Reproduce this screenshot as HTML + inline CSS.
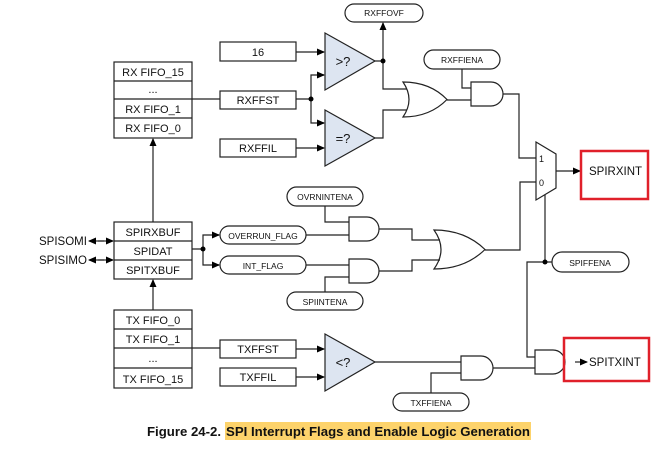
<!DOCTYPE html>
<html><head><meta charset="utf-8"><style>
html,body{margin:0;padding:0;background:#fff;}
svg{display:block;}
text{font-family:"Liberation Sans",sans-serif;fill:#111;}
</style></head><body>
<svg width="660" height="450" viewBox="0 0 660 450" xmlns="http://www.w3.org/2000/svg">
<defs>
<marker id="ar" markerWidth="8" markerHeight="8" refX="7" refY="4" orient="auto" markerUnits="userSpaceOnUse">
<path d="M0,0.5 L8,4 L0,7.5 Z" fill="#000"/></marker>
</defs>
<g fill="none" stroke="#222" stroke-width="1.2">
<rect x="114" y="62" width="78" height="76" fill="#fff"/>
<line x1="114" y1="81" x2="192" y2="81"/><line x1="114" y1="99" x2="192" y2="99"/><line x1="114" y1="118" x2="192" y2="118"/>
<rect x="114" y="222" width="78" height="57" fill="#fff"/>
<line x1="114" y1="241" x2="192" y2="241"/><line x1="114" y1="260" x2="192" y2="260"/>
<rect x="114" y="310" width="78" height="78" fill="#fff"/>
<line x1="114" y1="329" x2="192" y2="329"/><line x1="114" y1="348" x2="192" y2="348"/><line x1="114" y1="368" x2="192" y2="368"/>
<rect x="220" y="42" width="76" height="19"/>
<rect x="220" y="91" width="76" height="18"/>
<rect x="220" y="139" width="76" height="18"/>
<rect x="220" y="340" width="76" height="18"/>
<rect x="220" y="368" width="76" height="18"/>
<path d="M325 33 L375 61 L325 90 Z" fill="#dde5f1"/>
<path d="M325 110 L375 138 L325 166 Z" fill="#dde5f1"/>
<path d="M325 334 L375 362 L325 391 Z" fill="#dde5f1"/>
<rect x="345" y="4" width="78" height="18" rx="9"/>
<rect x="424" y="50" width="76" height="19" rx="9.5"/>
<rect x="287" y="187" width="76" height="19" rx="9.5"/>
<rect x="220" y="226" width="86" height="18" rx="9"/>
<rect x="220" y="256" width="86" height="18" rx="9"/>
<rect x="287" y="292" width="76" height="18" rx="9"/>
<rect x="552" y="252" width="77" height="20" rx="10"/>
<rect x="393" y="393" width="76" height="18" rx="9"/>
<path d="M403 82 Q430 82 447 99.5 Q430 117 403 117 Q415 99.5 403 82 Z"/>
<path d="M471 82 H491 A12 12 0 0 1 491 106 H471 Z"/>
<path d="M349 217 H367 A12 12 0 0 1 367 241 H349 Z"/>
<path d="M349 259 H367 A12 12 0 0 1 367 283 H349 Z"/>
<path d="M434 230 Q465 230 485 249.5 Q465 269 434 269 Q448 249.5 434 230 Z"/>
<path d="M461 356 H481 A12 12 0 0 1 481 380 H461 Z"/>
<path d="M535 350 H553 A12 12 0 0 1 553 374 H535 Z"/>
<path d="M536 142 L556 154 L556 188 L536 200 Z"/>
<path d="M192 99 H220"/>
<path d="M296 52 H324" marker-end="url(#ar)"/>
<path d="M296 99 H311 M311 99 V75 H324 M311 99 V123 H324" />
<path d="M317 75 H324" marker-end="url(#ar)"/>
<path d="M317 123 H324" marker-end="url(#ar)"/>
<path d="M296 148 H324" marker-end="url(#ar)"/>
<path d="M375 61 H383 M383 61 V23" marker-end="url(#ar)"/>
<path d="M383 61 V89 H407"/>
<path d="M375 138 H383 V110 H407"/>
<path d="M447 100 H471"/>
<path d="M462 69 V88 H471"/>
<path d="M503 94 H519 V158 H536"/>
<path d="M485 250 H520 V182 H536"/>
<path d="M556 171 H580" marker-end="url(#ar)"/>
<path d="M545 195 V262 H552 M545 262 H527 V357 H535"/>
<path d="M575 362 H587" marker-end="url(#ar)"/>
<path d="M493 368 H535"/>
<path d="M375 362 H461"/>
<path d="M431 393 V373 H461"/>
<path d="M296 349 H324" marker-end="url(#ar)"/>
<path d="M296 377 H324" marker-end="url(#ar)"/>
<path d="M192 348 H220"/>
<path d="M153 310 V280" marker-end="url(#ar)"/>
<path d="M153 222 V139" marker-end="url(#ar)"/>
<path d="M192 249 H203 V235 H219 M203 249 V265 H219"/>
<path d="M212 235 H219" marker-end="url(#ar)"/>
<path d="M212 265 H219" marker-end="url(#ar)"/>
<path d="M306 235 H349"/>
<path d="M325 206 V222 H349"/>
<path d="M306 265 H349"/>
<path d="M325 292 V277 H349"/>
<path d="M379 229 H412 V240 H440"/>
<path d="M379 271 H412 V260 H440"/>
<path d="M98 241 H113" marker-end="url(#ar)"/>
<path d="M104 241 H89" marker-end="url(#ar)"/>
<path d="M98 260 H113" marker-end="url(#ar)"/>
<path d="M104 260 H89" marker-end="url(#ar)"/>
</g>
<g fill="#000">
<circle cx="311" cy="99" r="2.5"/><circle cx="383" cy="61" r="2.5"/>
<circle cx="203" cy="249" r="2.5"/><circle cx="545" cy="262" r="2.5"/>
</g>
<rect x="581" y="151" width="67" height="48" fill="none" stroke="#e0202a" stroke-width="2.5"/>
<rect x="564" y="338" width="85" height="43" fill="none" stroke="#e0202a" stroke-width="2.5"/>
<rect x="225" y="422" width="306" height="18" fill="#fdd36b"/>
<g font-size="11" text-anchor="middle">
<text x="153" y="76">RX FIFO_15</text><text x="153" y="93">...</text>
<text x="153" y="113">RX FIFO_1</text><text x="153" y="132">RX FIFO_0</text>
<text x="153" y="236">SPIRXBUF</text><text x="153" y="255">SPIDAT</text><text x="153" y="274">SPITXBUF</text>
<text x="153" y="324">TX FIFO_0</text><text x="153" y="343">TX FIFO_1</text>
<text x="153" y="362">...</text><text x="153" y="383">TX FIFO_15</text>
<text x="258" y="56">16</text><text x="258" y="104">RXFFST</text><text x="258" y="152">RXFFIL</text>
<text x="258" y="353">TXFFST</text><text x="258" y="381">TXFFIL</text>
<text x="343" y="66" font-size="13">&gt;?</text><text x="343" y="143" font-size="13">=?</text>
<text x="343" y="367" font-size="13">&lt;?</text>
</g>
<g font-size="8.5" text-anchor="middle">
<text x="384" y="16">RXFFOVF</text><text x="462" y="63">RXFFIENA</text>
<text x="325" y="200">OVRNINTENA</text><text x="263" y="239">OVERRUN_FLAG</text>
<text x="263" y="269">INT_FLAG</text><text x="325" y="305">SPIINTENA</text>
<text x="590" y="266">SPIFFENA</text><text x="431" y="406">TXFFIENA</text>
</g>
<text x="539" y="162" font-size="9">1</text><text x="539" y="186" font-size="9">0</text>
<text x="589" y="175" font-size="11.5">SPIRXINT</text>
<text x="589" y="366" font-size="11.5">SPITXINT</text>
<text x="39" y="245" font-size="11.5">SPISOMI</text>
<text x="39" y="264" font-size="11.5">SPISIMO</text>
<text x="147" y="436" font-size="12.5" font-weight="bold" textLength="74" lengthAdjust="spacingAndGlyphs">Figure 24-2.</text>
<text x="226" y="436" font-size="12.5" font-weight="bold" textLength="304" lengthAdjust="spacingAndGlyphs">SPI Interrupt Flags and Enable Logic Generation</text>
</svg>
</body></html>
